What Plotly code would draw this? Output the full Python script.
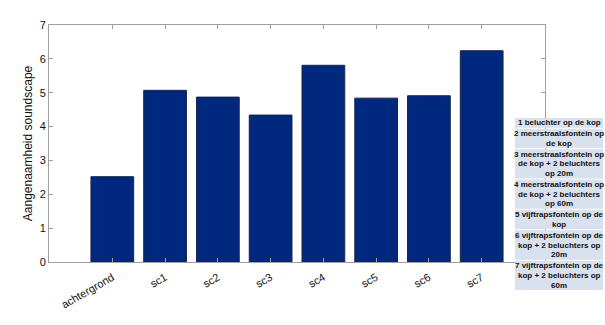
import plotly.graph_objects as go

categories = ["achtergrond", "sc1", "sc2", "sc3", "sc4", "sc5", "sc6", "sc7"]
values = [2.52, 5.07, 4.87, 4.34, 5.81, 4.84, 4.91, 6.24]
y_ticks = [0, 1, 2, 3, 4, 5, 6, 7]
legend_rows = [
    ["1 beluchter op de kop"],
    ["2 meerstraalsfontein op", "de kop"],
    ["3 meerstraalsfontein op", "de kop + 2 beluchters", "op 20m"],
    ["4 meerstraalsfontein op", "de kop + 2 beluchters", "op 60m"],
    ["5 vijftrapsfontein op de", "kop"],
    ["6 vijftrapsfontein op de", "kop + 2 beluchters op", "20m"],
    ["7 vijftrapsfontein op de", "kop + 2 beluchters op", "60m"],
]

W, H = 605, 325
ML, MR, MT, MB = 49, 60, 25, 63
PW = W - ML - MR
PH = H - MT - MB

FONT = "Liberation Sans, Arial, sans-serif"
AXCOL = "#a0a0a0"

fig = go.Figure()
fig.add_trace(go.Bar(
    x=categories, y=values, width=0.81,
    marker=dict(color="#00287f", line=dict(color="#1c2545", width=1)),
    showlegend=False,
))

def px_to_paper_x(px):
    return (px - ML) / PW

def px_to_paper_y(py):
    return (H - MB - py) / PH

annotations = []
shapes = []
top = 118.0
line_h = 9.76
box_l, box_r = 515, 603
for lines in legend_rows:
    h = len(lines) * line_h
    shapes.append(dict(
        type="rect", xref="paper", yref="paper", layer="above",
        x0=px_to_paper_x(box_l), x1=px_to_paper_x(box_r),
        y0=px_to_paper_y(top + h), y1=px_to_paper_y(top),
        fillcolor="#d9e0ee", line=dict(width=0),
    ))
    for i, ln in enumerate(lines):
        yc = top + (i + 0.5) * line_h
        annotations.append(dict(
            text=ln, xref="paper", yref="paper",
            x=px_to_paper_x((box_l + box_r) / 2), y=px_to_paper_y(yc),
            xanchor="center", yanchor="middle",
            showarrow=False, borderpad=0,
            font=dict(family=FONT, size=8, color="#111111", weight="bold"),
        ))
    top += h + 1

fig.update_layout(
    width=W, height=H,
    margin=dict(l=ML, r=MR, t=MT, b=MB, pad=0),
    plot_bgcolor="white", paper_bgcolor="white",
    font=dict(family=FONT, color="#111111"),
    annotations=annotations,
    shapes=shapes,
    xaxis=dict(
        type="category", range=[-1.2, 8.2],
        showline=True, linecolor=AXCOL, linewidth=1, mirror="ticks",
        ticks="inside", ticklen=4, tickcolor=AXCOL,
        tickangle=-30, tickfont=dict(size=11, color="#111111"),
        ticklabelstandoff=4,
        showgrid=False, zeroline=False,
    ),
    yaxis=dict(
        range=[0, 7], tickvals=y_ticks,
        showline=True, linecolor=AXCOL, linewidth=1, mirror="ticks",
        ticks="inside", ticklen=4, tickcolor=AXCOL,
        tickfont=dict(size=11, color="#111111"),
        showgrid=False, zeroline=False,
        title=dict(text="Aangenaamheid soundscape", font=dict(size=12, color="#111111"), standoff=4),
    ),
)

fig.write_html("out.html")
